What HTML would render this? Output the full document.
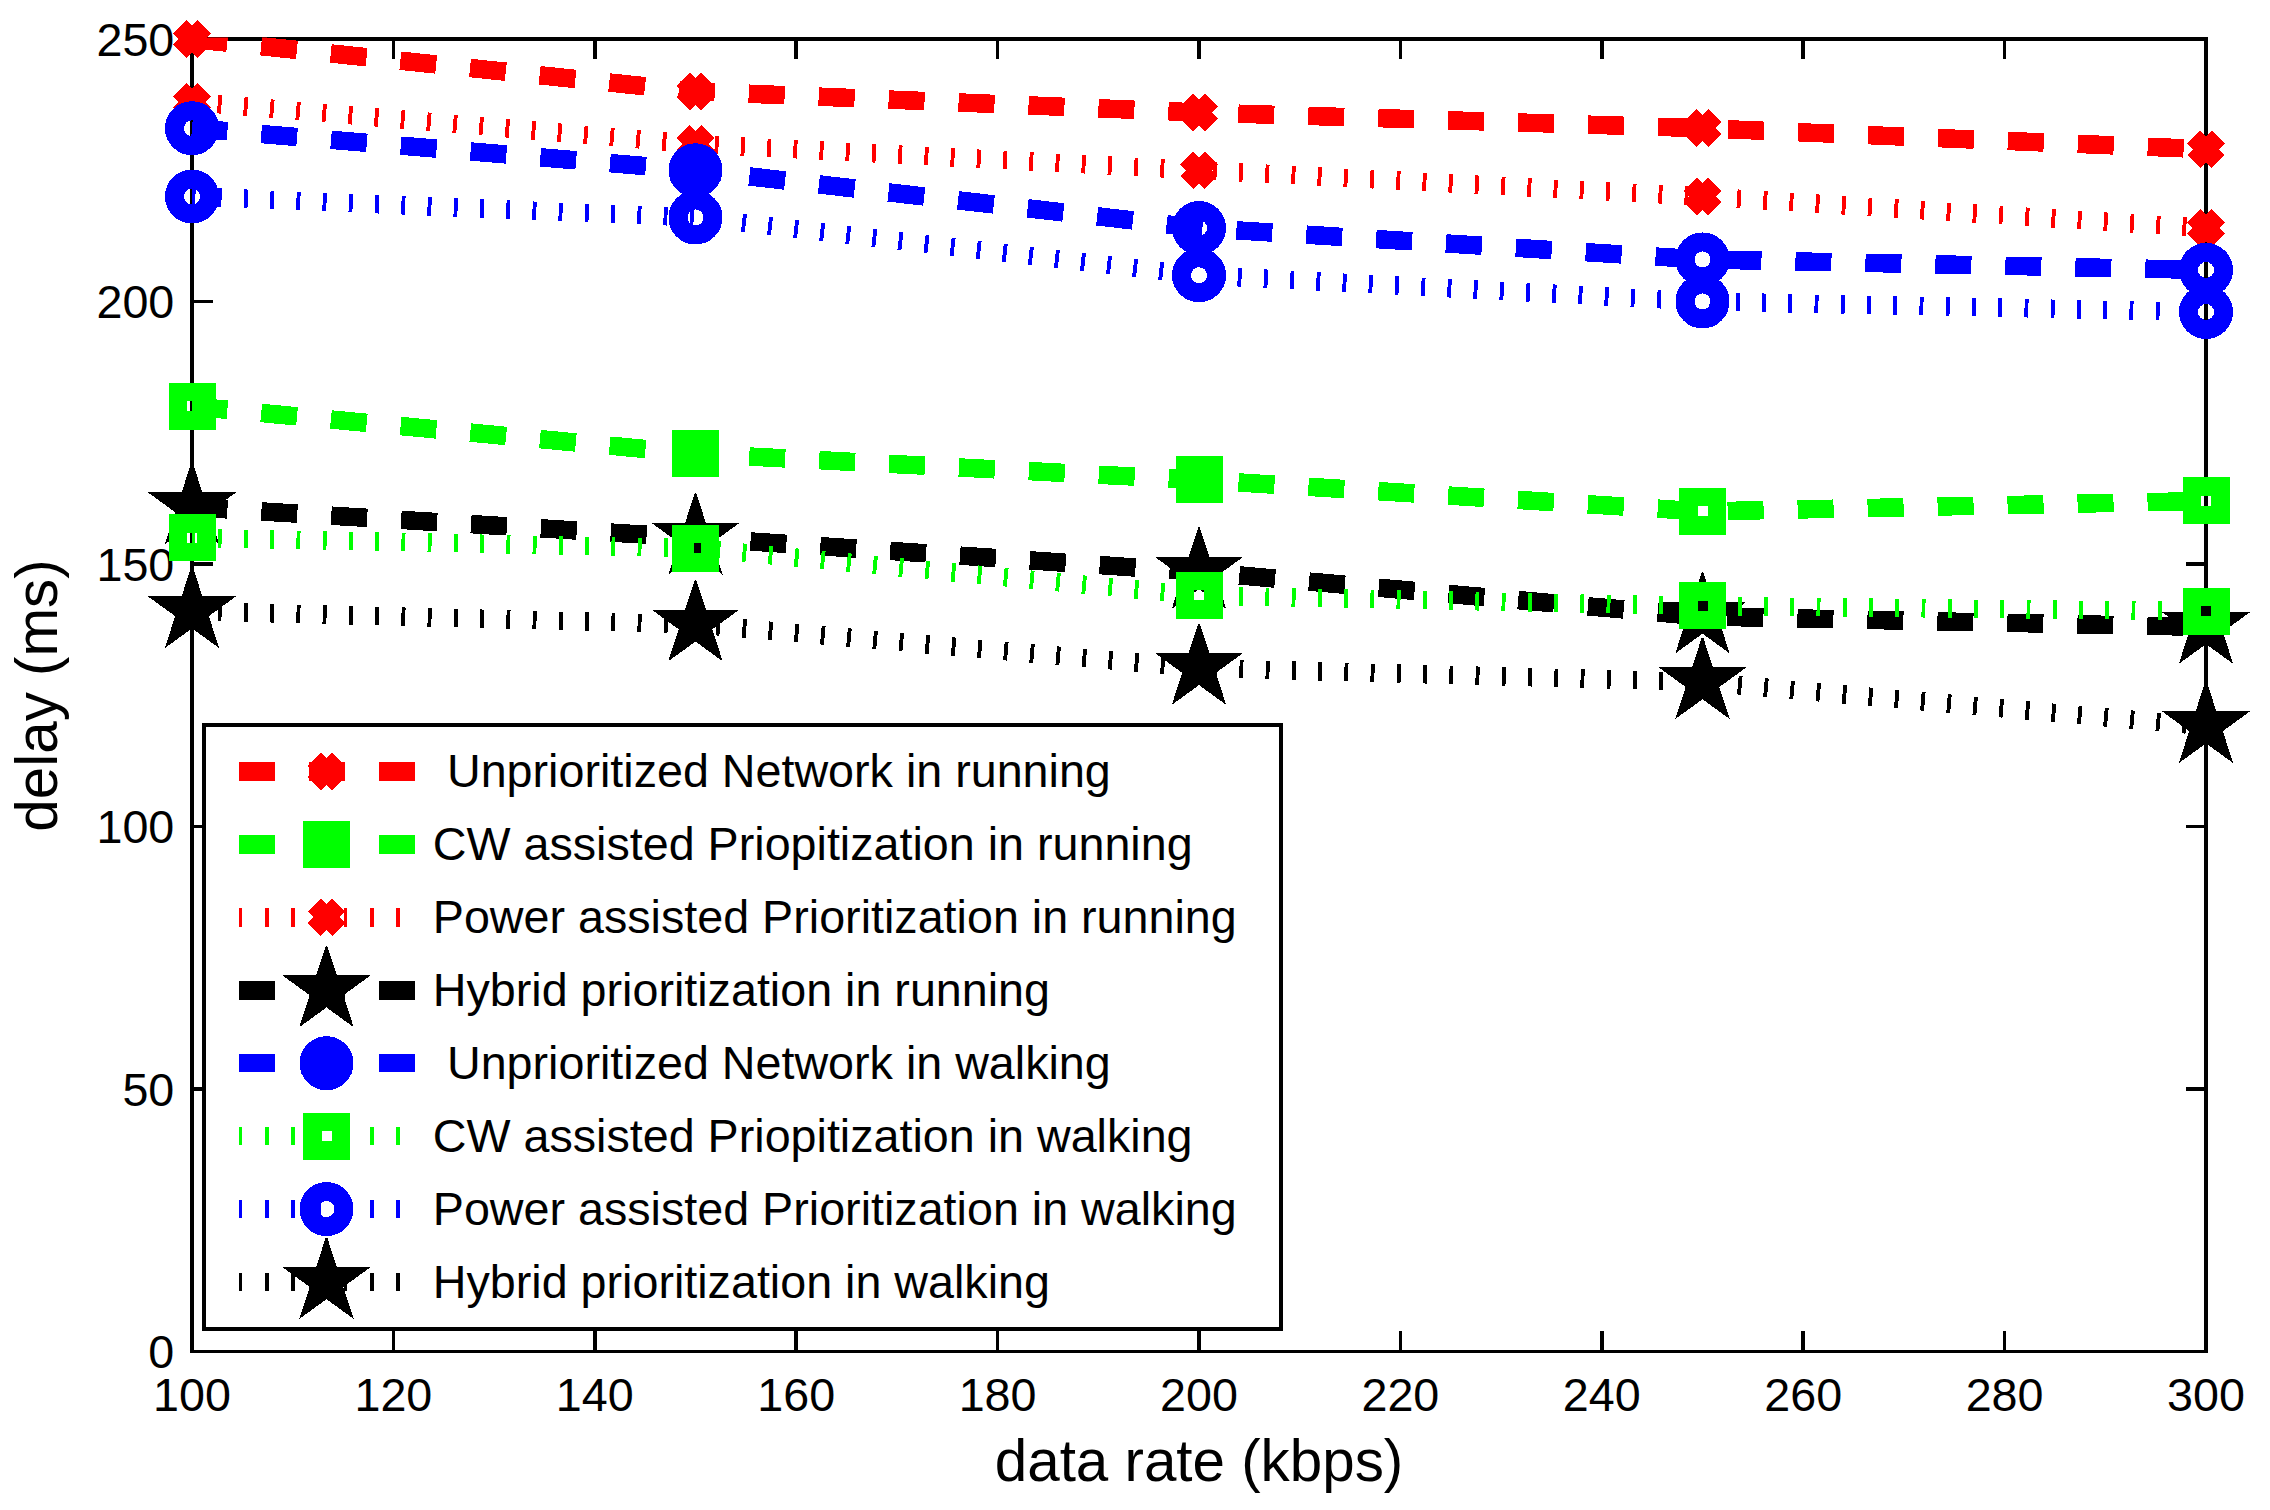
<!DOCTYPE html>
<html lang="en"><head><meta charset="utf-8"><title>delay vs data rate</title>
<style>html,body{margin:0;padding:0;background:#fff}body{width:2270px;height:1510px;overflow:hidden}svg{display:block}text{font-family:"Liberation Sans",sans-serif;fill:#000}.t{font-size:46.67px}.l{font-size:58.33px}</style></head><body>
<svg width="2270" height="1510" viewBox="0 0 2270 1510">
<rect width="2270" height="1510" fill="#fff"/>
<defs><clipPath id="ax"><rect x="188" y="37.5" width="2024" height="1317"/></clipPath></defs>
<g shape-rendering="crispEdges" fill="#000">
<rect x="190" y="37" width="2018" height="4"/>
<rect x="190" y="1350" width="2018" height="3"/>
<rect x="190" y="37" width="4" height="1316"/>
<rect x="2204" y="37" width="4" height="1316"/>
<rect x="391.65" y="41" width="3.5" height="18"/>
<rect x="391.65" y="1331" width="3.5" height="19"/>
<rect x="593.05" y="41" width="3.5" height="18"/>
<rect x="593.05" y="1331" width="3.5" height="19"/>
<rect x="794.45" y="41" width="3.5" height="18"/>
<rect x="794.45" y="1331" width="3.5" height="19"/>
<rect x="995.85" y="41" width="3.5" height="18"/>
<rect x="995.85" y="1331" width="3.5" height="19"/>
<rect x="1197.25" y="41" width="3.5" height="18"/>
<rect x="1197.25" y="1331" width="3.5" height="19"/>
<rect x="1398.65" y="41" width="3.5" height="18"/>
<rect x="1398.65" y="1331" width="3.5" height="19"/>
<rect x="1600.05" y="41" width="3.5" height="18"/>
<rect x="1600.05" y="1331" width="3.5" height="19"/>
<rect x="1801.45" y="41" width="3.5" height="18"/>
<rect x="1801.45" y="1331" width="3.5" height="19"/>
<rect x="2002.85" y="41" width="3.5" height="18"/>
<rect x="2002.85" y="1331" width="3.5" height="19"/>
<rect x="194" y="1087.17" width="18.5" height="3.5"/>
<rect x="2185.5" y="1087.17" width="18.5" height="3.5"/>
<rect x="194" y="824.69" width="18.5" height="3.5"/>
<rect x="2185.5" y="824.69" width="18.5" height="3.5"/>
<rect x="194" y="562.21" width="18.5" height="3.5"/>
<rect x="2185.5" y="562.21" width="18.5" height="3.5"/>
<rect x="194" y="299.73" width="18.5" height="3.5"/>
<rect x="2185.5" y="299.73" width="18.5" height="3.5"/>
</g>
<g class="t">
<text x="192" y="1411" text-anchor="middle">100</text>
<text x="393.4" y="1411" text-anchor="middle">120</text>
<text x="594.8" y="1411" text-anchor="middle">140</text>
<text x="796.2" y="1411" text-anchor="middle">160</text>
<text x="997.6" y="1411" text-anchor="middle">180</text>
<text x="1199" y="1411" text-anchor="middle">200</text>
<text x="1400.4" y="1411" text-anchor="middle">220</text>
<text x="1601.8" y="1411" text-anchor="middle">240</text>
<text x="1803.2" y="1411" text-anchor="middle">260</text>
<text x="2004.6" y="1411" text-anchor="middle">280</text>
<text x="2206" y="1411" text-anchor="middle">300</text>
<text x="174.3" y="1368.4" text-anchor="end">0</text>
<text x="174.3" y="1105.92" text-anchor="end">50</text>
<text x="174.3" y="843.44" text-anchor="end">100</text>
<text x="174.3" y="580.96" text-anchor="end">150</text>
<text x="174.3" y="318.48" text-anchor="end">200</text>
<text x="174.3" y="56" text-anchor="end">250</text>
</g>
<text class="l" x="1199" y="1481" text-anchor="middle">data rate (kbps)</text>
<text class="l" transform="translate(57.3,695.5) rotate(-90)" text-anchor="middle">delay (ms)</text>
<g shape-rendering="crispEdges">
<polyline clip-path="url(#ax)" points="192,39 695.5,91.5 1199,112.49 1702.5,128.24 2206,149.24" fill="none" stroke="#ff0000" stroke-width="18.5" stroke-dasharray="36 34" stroke-dashoffset="0.5"/>
<path d="M179.63 26.63L204.37 51.37M179.63 51.37L204.37 26.63" stroke="#ff0000" stroke-width="18.5" fill="none"/>
<path d="M683.13 79.13L707.87 103.87M683.13 103.87L707.87 79.13" stroke="#ff0000" stroke-width="18.5" fill="none"/>
<path d="M1186.63 100.12L1211.37 124.86M1186.63 124.86L1211.37 100.12" stroke="#ff0000" stroke-width="18.5" fill="none"/>
<path d="M1690.13 115.87L1714.87 140.61M1690.13 140.61L1714.87 115.87" stroke="#ff0000" stroke-width="18.5" fill="none"/>
<path d="M2193.63 136.87L2218.37 161.61M2193.63 161.61L2218.37 136.87" stroke="#ff0000" stroke-width="18.5" fill="none"/>
</g>
<g shape-rendering="crispEdges">
<polyline clip-path="url(#ax)" points="192,406.47 695.5,453.72 1199,479.97 1702.5,511.46 2206,500.96" fill="none" stroke="#00ff00" stroke-width="18.5" stroke-dasharray="36 34" stroke-dashoffset="0.5"/>
<rect x="177.75" y="392.22" width="28.5" height="28.5" stroke="#00ff00" stroke-width="18.5" fill="none"/>
<rect x="681.25" y="439.47" width="28.5" height="28.5" stroke="#00ff00" stroke-width="18.5" fill="none"/>
<rect x="1184.75" y="465.72" width="28.5" height="28.5" stroke="#00ff00" stroke-width="18.5" fill="none"/>
<rect x="1688.25" y="497.21" width="28.5" height="28.5" stroke="#00ff00" stroke-width="18.5" fill="none"/>
<rect x="2191.75" y="486.71" width="28.5" height="28.5" stroke="#00ff00" stroke-width="18.5" fill="none"/>
</g>
<g shape-rendering="crispEdges">
<polyline clip-path="url(#ax)" points="192,102 695.5,143.99 1199,170.24 1702.5,196.49 2206,227.99" fill="none" stroke="#ff0000" stroke-width="18.5" stroke-dasharray="3.9 22.35" stroke-dashoffset="0.5"/>
<path d="M179.63 89.63L204.37 114.37M179.63 114.37L204.37 89.63" stroke="#ff0000" stroke-width="18.5" fill="none"/>
<path d="M683.13 131.62L707.87 156.36M683.13 156.36L707.87 131.62" stroke="#ff0000" stroke-width="18.5" fill="none"/>
<path d="M1186.63 157.87L1211.37 182.61M1186.63 182.61L1211.37 157.87" stroke="#ff0000" stroke-width="18.5" fill="none"/>
<path d="M1690.13 184.12L1714.87 208.86M1690.13 208.86L1714.87 184.12" stroke="#ff0000" stroke-width="18.5" fill="none"/>
<path d="M2193.63 215.62L2218.37 240.36M2193.63 240.36L2218.37 215.62" stroke="#ff0000" stroke-width="18.5" fill="none"/>
</g>
<g shape-rendering="crispEdges">
<polyline clip-path="url(#ax)" points="192,507.26 695.5,537.71 1199,571.83 1702.5,616.46 2206,626.96" fill="none" stroke="#000000" stroke-width="18.5" stroke-dasharray="36 34" stroke-dashoffset="0.5"/>
<polygon points="191.22,462.86 192.78,462.86 202.39,492.46 236.03,492.46 208.82,512.23 219.21,544.22 192,524.45 164.79,544.22 175.18,512.23 147.97,492.46 181.61,492.46" fill="#000"/>
<polygon points="694.72,493.31 696.28,493.31 705.89,522.9 739.53,522.9 712.32,542.68 722.71,574.67 695.5,554.9 668.29,574.67 678.68,542.68 651.47,522.9 685.11,522.9" fill="#000"/>
<polygon points="1198.22,527.43 1199.78,527.43 1209.39,557.03 1243.03,557.03 1215.82,576.8 1226.21,608.79 1199,589.02 1171.79,608.79 1182.18,576.8 1154.97,557.03 1188.61,557.03" fill="#000"/>
<polygon points="1701.72,572.06 1703.28,572.06 1712.89,601.65 1746.53,601.65 1719.32,621.42 1729.71,653.41 1702.5,633.64 1675.29,653.41 1685.68,621.42 1658.47,601.65 1692.11,601.65" fill="#000"/>
<polygon points="2205.22,582.56 2206.78,582.56 2216.39,612.15 2250.03,612.15 2222.82,631.92 2233.21,663.91 2206,644.14 2178.79,663.91 2189.18,631.92 2161.97,612.15 2195.61,612.15" fill="#000"/>
</g>
<g shape-rendering="crispEdges">
<polyline clip-path="url(#ax)" points="192,128.24 695.5,170.24 1199,227.99 1702.5,259.48 2206,269.98" fill="none" stroke="#0000ff" stroke-width="18.5" stroke-dasharray="36 34" stroke-dashoffset="0.5"/>
<circle cx="192" cy="128.24" r="17.5" stroke="#0000ff" stroke-width="19" fill="none"/>
<circle cx="695.5" cy="170.24" r="17.5" stroke="#0000ff" stroke-width="19" fill="none"/>
<circle cx="1199" cy="227.99" r="17.5" stroke="#0000ff" stroke-width="19" fill="none"/>
<circle cx="1702.5" cy="259.48" r="17.5" stroke="#0000ff" stroke-width="19" fill="none"/>
<circle cx="2206" cy="269.98" r="17.5" stroke="#0000ff" stroke-width="19" fill="none"/>
</g>
<g shape-rendering="crispEdges">
<polyline clip-path="url(#ax)" points="192,537.71 695.5,548.21 1199,595.46 1702.5,605.96 2206,611.21" fill="none" stroke="#00ff00" stroke-width="18.5" stroke-dasharray="3.9 22.35" stroke-dashoffset="0.5"/>
<rect x="177.75" y="523.46" width="28.5" height="28.5" stroke="#00ff00" stroke-width="18.5" fill="none"/>
<rect x="681.25" y="533.96" width="28.5" height="28.5" stroke="#00ff00" stroke-width="18.5" fill="none"/>
<rect x="1184.75" y="581.21" width="28.5" height="28.5" stroke="#00ff00" stroke-width="18.5" fill="none"/>
<rect x="1688.25" y="591.71" width="28.5" height="28.5" stroke="#00ff00" stroke-width="18.5" fill="none"/>
<rect x="2191.75" y="596.96" width="28.5" height="28.5" stroke="#00ff00" stroke-width="18.5" fill="none"/>
</g>
<g shape-rendering="crispEdges">
<polyline clip-path="url(#ax)" points="192,196.49 695.5,217.49 1199,275.23 1702.5,301.48 2206,311.98" fill="none" stroke="#0000ff" stroke-width="18.5" stroke-dasharray="3.9 22.35" stroke-dashoffset="0.5"/>
<circle cx="192" cy="196.49" r="17.5" stroke="#0000ff" stroke-width="19" fill="none"/>
<circle cx="695.5" cy="217.49" r="17.5" stroke="#0000ff" stroke-width="19" fill="none"/>
<circle cx="1199" cy="275.23" r="17.5" stroke="#0000ff" stroke-width="19" fill="none"/>
<circle cx="1702.5" cy="301.48" r="17.5" stroke="#0000ff" stroke-width="19" fill="none"/>
<circle cx="2206" cy="311.98" r="17.5" stroke="#0000ff" stroke-width="19" fill="none"/>
</g>
<g shape-rendering="crispEdges">
<polyline clip-path="url(#ax)" points="192,611.21 695.5,624.33 1199,667.9 1702.5,682.08 2206,726.17" fill="none" stroke="#000000" stroke-width="18.5" stroke-dasharray="3.9 22.35" stroke-dashoffset="0.5"/>
<polygon points="191.22,566.81 192.78,566.81 202.39,596.4 236.03,596.4 208.82,616.17 219.21,648.16 192,628.39 164.79,648.16 175.18,616.17 147.97,596.4 181.61,596.4" fill="#000"/>
<polygon points="694.72,579.93 696.28,579.93 705.89,609.52 739.53,609.52 712.32,629.3 722.71,661.29 695.5,641.52 668.29,661.29 678.68,629.3 651.47,609.52 685.11,609.52" fill="#000"/>
<polygon points="1198.22,623.5 1199.78,623.5 1209.39,653.09 1243.03,653.09 1215.82,672.87 1226.21,704.86 1199,685.09 1171.79,704.86 1182.18,672.87 1154.97,653.09 1188.61,653.09" fill="#000"/>
<polygon points="1701.72,637.68 1703.28,637.68 1712.89,667.27 1746.53,667.27 1719.32,687.04 1729.71,719.03 1702.5,699.26 1675.29,719.03 1685.68,687.04 1658.47,667.27 1692.11,667.27" fill="#000"/>
<polygon points="2205.22,681.77 2206.78,681.77 2216.39,711.37 2250.03,711.37 2222.82,731.14 2233.21,763.13 2206,743.36 2178.79,763.13 2189.18,731.14 2161.97,711.37 2195.61,711.37" fill="#000"/>
</g>
<rect x="204" y="725" width="1077" height="604" fill="#fff" stroke="#000" stroke-width="4" shape-rendering="crispEdges"/>
<g shape-rendering="crispEdges">
<path d="M239 771.5H414.5" fill="none" stroke="#ff0000" stroke-width="18.5" stroke-dasharray="36 34" stroke-dashoffset="0.5"/>
<path d="M314.13 759.13L338.87 783.87M314.13 783.87L338.87 759.13" stroke="#ff0000" stroke-width="18.5" fill="none"/>
<text class="t" x="434" y="787.2" xml:space="preserve"> Unprioritized Network in running</text>
<path d="M239 844.43H414.5" fill="none" stroke="#00ff00" stroke-width="18.5" stroke-dasharray="36 34" stroke-dashoffset="0.5"/>
<rect x="312.25" y="830.18" width="28.5" height="28.5" stroke="#00ff00" stroke-width="18.5" fill="none"/>
<text class="t" x="432.8" y="860.13" xml:space="preserve">CW assisted Priopitization in running</text>
<path d="M239 917.36H414.5" fill="none" stroke="#ff0000" stroke-width="18.5" stroke-dasharray="3.9 22.35" stroke-dashoffset="0.5"/>
<path d="M314.13 904.99L338.87 929.73M314.13 929.73L338.87 904.99" stroke="#ff0000" stroke-width="18.5" fill="none"/>
<text class="t" x="432.8" y="933.06" xml:space="preserve">Power assisted Prioritization in running</text>
<path d="M239 990.29H414.5" fill="none" stroke="#000000" stroke-width="18.5" stroke-dasharray="36 34" stroke-dashoffset="0.5"/>
<polygon points="325.72,945.89 327.28,945.89 336.89,975.48 370.53,975.48 343.32,995.25 353.71,1027.25 326.5,1007.48 299.29,1027.25 309.68,995.25 282.47,975.48 316.11,975.48" fill="#000"/>
<text class="t" x="432.8" y="1005.99" xml:space="preserve">Hybrid prioritization in running</text>
<path d="M239 1063.22H414.5" fill="none" stroke="#0000ff" stroke-width="18.5" stroke-dasharray="36 34" stroke-dashoffset="0.5"/>
<circle cx="326.5" cy="1063.22" r="17.5" stroke="#0000ff" stroke-width="19" fill="none"/>
<text class="t" x="434" y="1078.92" xml:space="preserve"> Unprioritized Network in walking</text>
<path d="M239 1136.15H414.5" fill="none" stroke="#00ff00" stroke-width="18.5" stroke-dasharray="3.9 22.35" stroke-dashoffset="0.5"/>
<rect x="312.25" y="1121.9" width="28.5" height="28.5" stroke="#00ff00" stroke-width="18.5" fill="none"/>
<text class="t" x="432.8" y="1151.85" xml:space="preserve">CW assisted Priopitization in walking</text>
<path d="M239 1209.08H414.5" fill="none" stroke="#0000ff" stroke-width="18.5" stroke-dasharray="3.9 22.35" stroke-dashoffset="0.5"/>
<circle cx="326.5" cy="1209.08" r="17.5" stroke="#0000ff" stroke-width="19" fill="none"/>
<text class="t" x="432.8" y="1224.78" xml:space="preserve">Power assisted Prioritization in walking</text>
<path d="M239 1282.01H414.5" fill="none" stroke="#000000" stroke-width="18.5" stroke-dasharray="3.9 22.35" stroke-dashoffset="0.5"/>
<polygon points="325.72,1237.61 327.28,1237.61 336.89,1267.2 370.53,1267.2 343.32,1286.97 353.71,1318.97 326.5,1299.2 299.29,1318.97 309.68,1286.97 282.47,1267.2 316.11,1267.2" fill="#000"/>
<text class="t" x="432.8" y="1297.71" xml:space="preserve">Hybrid prioritization in walking</text>
</g>
</svg></body></html>
